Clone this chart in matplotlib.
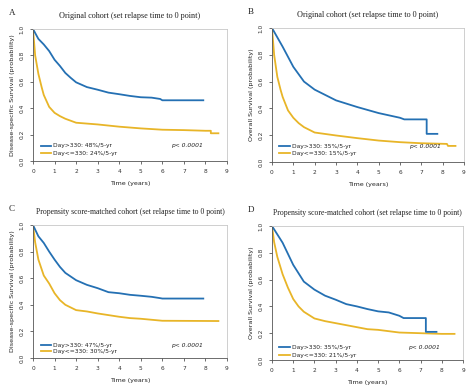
import numpy as np
import matplotlib
matplotlib.use("Agg")
import matplotlib.pyplot as plt

# ---- data (time in years, survival probability) ----
a_blue_t = [0, 0.25, 0.5, 0.75, 1.0, 1.25, 1.5, 1.75, 2.0, 2.5, 3.0, 3.5, 4.0, 4.5, 5.0, 5.5, 5.9, 6.0, 7.9]
a_blue_s = [1.0, 0.925, 0.883, 0.833, 0.767, 0.72, 0.667, 0.63, 0.596, 0.56, 0.54, 0.518, 0.506, 0.493, 0.483, 0.48, 0.47, 0.46, 0.46]
a_yel_t = [0, 0.1, 0.25, 0.4, 0.5, 0.75, 1.0, 1.25, 1.5, 2.0, 3.0, 4.0, 5.0, 6.0, 7.0, 8.0, 8.25, 8.25, 8.6]
a_yel_s = [1.0, 0.80, 0.66, 0.56, 0.50, 0.41, 0.365, 0.34, 0.32, 0.29, 0.277, 0.26, 0.247, 0.237, 0.234, 0.229, 0.229, 0.21, 0.21]

b_blue_t = [0, 0.5, 1.0, 1.5, 2.0, 2.5, 3.0, 4.0, 5.0, 6.0, 6.2, 7.25, 7.25, 7.75]
b_blue_s = [1.0, 0.86, 0.71, 0.60, 0.54, 0.50, 0.46, 0.41, 0.365, 0.33, 0.318, 0.318, 0.21, 0.21]
b_yel_t = [0, 0.1, 0.25, 0.4, 0.5, 0.75, 1.0, 1.25, 1.5, 2.0, 3.0, 4.0, 5.0, 6.0, 7.0, 8.2, 8.25, 8.6]
b_yel_s = [1.0, 0.80, 0.635, 0.54, 0.485, 0.385, 0.33, 0.29, 0.26, 0.22, 0.198, 0.178, 0.16, 0.148, 0.14, 0.135, 0.12, 0.12]

c_blue_t = [0, 0.25, 0.5, 0.75, 1.0, 1.25, 1.5, 2.0, 2.5, 3.0, 3.5, 4.0, 4.5, 5.0, 5.5, 5.9, 6.0, 7.9]
c_blue_s = [1.0, 0.915, 0.865, 0.80, 0.74, 0.685, 0.64, 0.585, 0.55, 0.525, 0.495, 0.487, 0.475, 0.468, 0.46, 0.45, 0.447, 0.447]
c_yel_t = [0, 0.1, 0.25, 0.5, 0.75, 1.0, 1.25, 1.5, 2.0, 2.5, 3.0, 4.0, 4.5, 5.0, 6.0, 8.6]
c_yel_s = [1.0, 0.87, 0.74, 0.62, 0.56, 0.487, 0.435, 0.40, 0.36, 0.35, 0.335, 0.31, 0.30, 0.295, 0.28, 0.278]

d_blue_t = [0, 0.5, 1.0, 1.5, 2.0, 2.5, 3.0, 3.5, 4.0, 4.5, 5.0, 5.5, 6.0, 6.2, 7.25, 7.25, 7.75]
d_blue_s = [1.0, 0.875, 0.71, 0.585, 0.525, 0.48, 0.45, 0.417, 0.40, 0.38, 0.363, 0.355, 0.33, 0.313, 0.313, 0.21, 0.21]
d_yel_t = [0, 0.1, 0.25, 0.5, 0.75, 1.0, 1.25, 1.5, 2.0, 2.5, 3.0, 4.0, 4.5, 5.0, 6.0, 7.0, 8.0, 8.6]
d_yel_s = [1.0, 0.88, 0.77, 0.64, 0.54, 0.455, 0.40, 0.36, 0.31, 0.29, 0.275, 0.245, 0.23, 0.225, 0.205, 0.20, 0.195, 0.195]

panel_letters = ["A", "B", "C", "D"]
titles = ["Original cohort (set relapse time to 0 point)",
          "Original cohort (set relapse time to 0 point)",
          "Propensity score-matched cohort (set relapse time to 0 point)",
          "Propensity score-matched cohort (set relapse time to 0 point)"]
ylabels = ["Disease-specific Survival (probability)", "Overall Survival (probability)",
           "Disease-specific Survival (probability)", "Overall Survival (probability)"]
legend_blue = ["Day>330: 48%/5-yr", "Day>330: 35%/5-yr", "Day>330: 47%/5-yr", "Day>330: 35%/5-yr"]
legend_yel = ["Day<=330: 24%/5-yr", "Day<=330: 15%/5-yr", "Day<=330: 30%/5-yr", "Day<=330: 21%/5-yr"]
p_text = "p< 0.0001"
xticks = list(range(10))
yticks = [0.0, 0.2, 0.4, 0.6, 0.8, 1.0]

curves = [(a_blue_t, a_blue_s, a_yel_t, a_yel_s),
          (b_blue_t, b_blue_s, b_yel_t, b_yel_s),
          (c_blue_t, c_blue_s, c_yel_t, c_yel_s),
          (d_blue_t, d_blue_s, d_yel_t, d_yel_s)]

BLUE = "#2470b3"
GOLD = "#e8b528"

W, H = 474, 387
fig = plt.figure(figsize=(W / 100, H / 100), dpi=100)
fig.patch.set_facecolor("white")

# axes boxes in pixels: left, top, right, bottom
boxes = [(33, 29, 227, 161), (272, 28, 464, 162), (33, 225, 227, 358), (272, 226, 463, 360)]
# legend y (pixels) for the two entries
leg_y = [(146, 153), (146, 153), (345, 351), (347, 355)]
title_size = [5.9, 5.9, 5.6, 5.6]

for i, ax_box in enumerate(boxes):
    l, t, r, b = ax_box
    ax = fig.add_axes([l / W, 1 - b / H, (r - l) / W, (b - t) / H])
    bt, bs, yt, ys = curves[i]
    ax.plot(yt, ys, color=GOLD, lw=1.3, solid_joinstyle="round")
    ax.plot(bt, bs, color=BLUE, lw=1.3, solid_joinstyle="round")
    ax.set_xlim(0, 9)
    ax.set_ylim(0, 1.0)
    ax.set_xticks(xticks)
    ax.set_yticks(yticks)
    ax.set_yticklabels([f"{v:.1f}" for v in yticks], rotation=90, va="center")
    ax.tick_params(labelsize=4.2, length=2.5, width=0.5, pad=3.5, colors="#333333")
    for s in ["left", "bottom"]:
        ax.spines[s].set_color("#555555")
        ax.spines[s].set_linewidth(0.6)
    for s in ["top", "right"]:
        ax.spines[s].set_color("#c8c8c8")
        ax.spines[s].set_linewidth(0.6)
    ax.set_xlabel("Time (years)", fontsize=4.6, labelpad=5, color="#222222")
    ax.set_ylabel(ylabels[i], fontsize=4.6, labelpad=3.5, color="#222222")

    # legend drawn by hand inside axes
    ly1, ly2 = leg_y[i]
    y1 = (b - ly1) / (b - t)
    y2 = (b - ly2) / (b - t)
    ax.plot([0.35, 0.85], [y1, y1], color=BLUE, lw=1.3, clip_on=False)
    ax.plot([0.35, 0.85], [y2, y2], color=GOLD, lw=1.3, clip_on=False)
    ax.text(0.95, y1, legend_blue[i], fontsize=4.3, va="center", ha="left", color="#222222")
    ax.text(0.95, y2, legend_yel[i], fontsize=4.3, va="center", ha="left", color="#222222")
    ax.text(6.4, y1, p_text, fontsize=4.3, va="center", ha="left", style="italic", color="#222222")

    cx = (l + r) / 2
    fig.text(cx / W, 1 - (t - 13) / H, titles[i], fontsize=title_size[i], family="Liberation Serif",
             ha="center", va="center", color="#222222")
    fig.text((l - 21) / W, 1 - (t - 16) / H, panel_letters[i], fontsize=6.5,
             family="Liberation Serif", ha="center", va="center", color="#222222")

fig.savefig("out.png", dpi=100, facecolor="white")
